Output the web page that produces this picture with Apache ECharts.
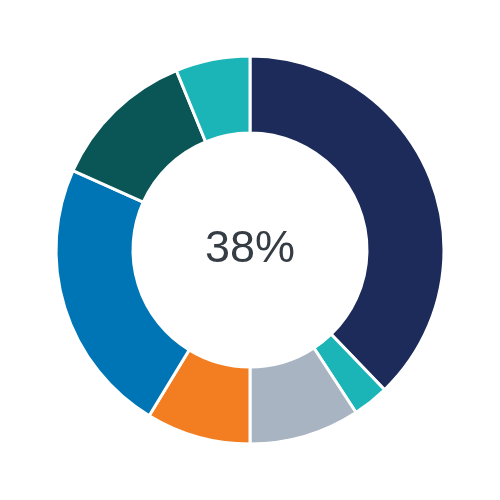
<!DOCTYPE html>
<html>
<head>
<meta charset="utf-8">
<script src="https://cdn.jsdelivr.net/npm/echarts@6/dist/echarts.min.js"></script>
<style>html,body{margin:0;padding:0;background:#fff;}#c{width:500px;height:500px;}</style>
</head>
<body>
<div id="c"></div>
<script>
const categories = ['A', 'B', 'C', 'D', 'E', 'F', 'G'];
const values = [37.8, 3, 9.2, 8.7, 23, 12.1, 6.2];
const colors = ['#1c2b5a', '#1bb5b8', '#a9b4c3', '#f37e21', '#0075b5', '#0a5656', '#1bb5b8'];
const centerLabel = '38%';

const chart = echarts.init(document.getElementById('c'));
chart.setOption({
  animation: false,
  title: {
    text: centerLabel,
    left: 'center',
    top: 'middle',
    textStyle: { fontFamily: 'Liberation Sans, Arial, sans-serif', fontSize: 45, fontWeight: 'normal', color: '#353c44' }
  },
  series: [{
    type: 'pie',
    center: [250, 250],
    radius: [117, 194],
    startAngle: 90,
    clockwise: true,
    label: { show: false },
    labelLine: { show: false },
    itemStyle: { borderColor: '#ffffff', borderWidth: 3 },
    data: categories.map((c, i) => ({ name: c, value: values[i], itemStyle: { color: colors[i] } }))
  }]
});
</script>
</body>
</html>
